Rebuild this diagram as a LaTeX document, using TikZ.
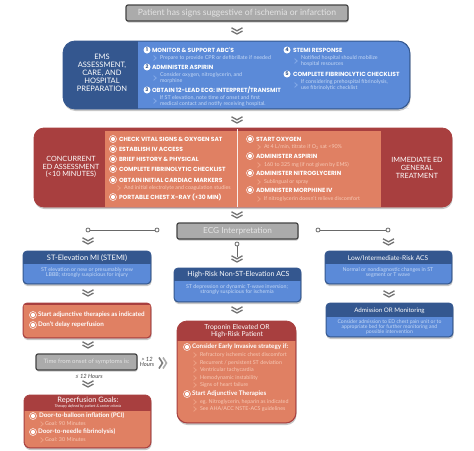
\documentclass[tikz,border=0pt]{standalone}
\usepackage{fontspec}
\setmainfont{Lato}
\newfontfamily\capsfont{Poppins}[Scale=1.0]
\definecolor{bluedk}{HTML}{34578F}
\definecolor{bluelt}{HTML}{5B8AD8}
\definecolor{bluesub}{HTML}{C4D8F5}
\definecolor{bluechev}{HTML}{7FA6E6}
\definecolor{reddk}{HTML}{A83F3F}
\definecolor{redlt}{HTML}{E08063}
\definecolor{redsub}{HTML}{F7C9B5}
\definecolor{redchev}{HTML}{EC9C80}
\definecolor{graybox}{HTML}{ABABAB}
\definecolor{grayline}{HTML}{444444}
\definecolor{graytxt}{HTML}{E4E4E4}
\newcounter{nd}
\newcommand{\fs}[1]{\fontsize{#1}{#1}\selectfont}
\tikzset{
  x=1pt,y=-1pt,
  lab/.style={inner sep=0pt,outer sep=0pt,text=white},
  headL/.style={lab,anchor=west,font={\capsfont\bfseries\fs{5.95}}},
  itemL/.style={lab,anchor=west,font={\bfseries\fs{6.3}}},
  subL/.style={lab,anchor=west,align=left,font={\fs{5.35}\linespread{1.12}\selectfont}},
  title/.style={lab,align=center,font={\fs{7.1}}},
  desc/.style={lab,align=center,font={\fs{5.3}}},
  side/.style={lab,align=center,font={\fs{7.2}}},
  shade/.style={fill=black,fill opacity=0.22,draw=none},
  gbox/.style={draw=grayline,line width=1.2pt,fill=graybox,rounded corners=2pt,inner sep=0pt},
  gtext/.style={lab,text=graytxt},
  endp/.style={circle,draw=grayline!80,fill=white,line width=0.8pt,minimum size=4pt,inner sep=0pt},
  conn/.style={draw=grayline!80,line width=0.9pt},
  numb/.style={circle,fill=white,minimum size=7pt,inner sep=0pt,text=bluedk,font={\capsfont\bfseries\fs{5}}},
  dot/.style={circle,fill=white,minimum size=4.2pt,inner sep=0pt,outer sep=0pt},
  ring/.style={circle,draw=white,line width=0.5pt,minimum size=7pt,inner sep=0pt},
  chev/.pic={
    \draw[grayline!75,line width=1.3pt,line join=miter] (-5.5,-3.2)--(0,-0.2)--(5.5,-3.2);
    \draw[grayline!75,line width=1.3pt,line join=miter] (-5.5,0)--(0,3)--(5.5,0);
  },
  chevr/.pic={
    \draw[grayline!70,line width=1.6pt] (-4,-5.5)--(-0.5,0)--(-4,5.5);
    \draw[graybox,line width=1.6pt] (0,-5.5)--(3.5,0)--(0,5.5);
  },
}
% card: name, x1,y1,x2,y2, ysplit, dark, light, radius
\newcommand{\card}[9]{%
  \pgfmathsetmacro{\cw}{#4-#2}\pgfmathsetmacro{\ch}{#5-#3}%
  \pgfmathsetmacro{\cx}{(#2+#4)/2}\pgfmathsetmacro{\cy}{(#3+#5)/2}%
  \fill[shade,rounded corners=#9pt] (#2+0.5,#3+2) rectangle (#4+0.5,#5+2);
  \node[draw=#7,fill=#7,line width=0.8pt,rounded corners=#9pt,inner sep=0pt,minimum width=\cw pt,minimum height=\ch pt] (#1) at (\cx,\cy) {};
  \fill[#8] (#2+0.6,#6) -- (#4-0.6,#6) [rounded corners=#9pt] -- (#4-0.6,#5-0.6) -- (#2+0.6,#5-0.6) [sharp corners] -- cycle;
}
\newcommand{\smallchev}[3]{%
  \draw[#3,line width=0.9pt] (#1-1.5,#2-2.4)--(#1+1.2,#2)--(#1-1.5,#2+2.4);
}
\newcommand{\numitem}[5]{% bx, y, tx, number, text
  \stepcounter{nd}\node[numb] (b\arabic{nd}) at (#1,#2) {#4};
  \node[headL] (t\arabic{nd}) at (#3,#2) {#5};
}
\newcommand{\bsub}[4]{% chevron x, text x, y, text
  \smallchev{#1}{#3}{bluechev}
  \stepcounter{nd}\node[subL,text=bluesub] (t\arabic{nd}) at (#2,#3) {#4};
}
\newcommand{\rbul}[2]{%
  \stepcounter{nd}\node[ring] (r\arabic{nd}) at (#1,#2) {};
  \node[dot] (d\arabic{nd}) at (#1,#2) {};
}
\newcommand{\ritem}[4]{% bx, tx, y, text
  \rbul{#1}{#3}
  \node[headL] (t\arabic{nd}) at (#2,#3) {#4};
}
\newcommand{\mitem}[4]{%
  \rbul{#1}{#3}
  \node[itemL] (t\arabic{nd}) at (#2,#3) {#4};
}
\newcommand{\rsub}[4]{%
  \smallchev{#1}{#3}{redchev}
  \stepcounter{nd}\node[subL,text=redsub] (t\arabic{nd}) at (#2,#3) {#4};
}
\begin{document}
\begin{tikzpicture}
\useasboundingbox (0,0) rectangle (474,450);
\fill[white] (0,0) rectangle (474,450);

% top box
\fill[shade,rounded corners=2pt] (126.5,6.5) rectangle (348.5,22.5);
\node[gbox,minimum width=222pt,minimum height=16pt] (top) at (237,13) {};
\node[gtext,font={\fs{8.6}}] (topT) at (top.center) {Patient has signs suggestive of ischemia or infarction};
\pic at (237,31) {chev};

% EMS panel
\fill[shade,rounded corners=12pt] (63.5,43) rectangle (410.5,111);
\node[fill=bluedk,draw=bluedk,line width=0.8pt,rounded corners=12pt,inner sep=0pt,minimum width=347pt,minimum height=68pt] (ems) at (236.5,75) {};
\fill[bluelt] (138,41.6) -- (397,41.6) [rounded corners=12pt] -- (409.4,41.6) -- (409.4,108.4) -- (397,108.4) [sharp corners] -- (138,108.4) -- cycle;
\node[side,font={\fs{7.5}}] (emsL) at (102,73) {EMS\\[0.5pt]ASSESSMENT,\\[0.5pt]CARE, AND\\[0.5pt]HOSPITAL\\[0.5pt]PREPARATION};
\numitem{147}{50}{152}{1}{MONITOR \& SUPPORT ABC'S}
\bsub{155}{160}{58}{Prepare to provide CPR or defibrillate if needed}
\numitem{147}{67}{152}{2}{ADMINISTER ASPIRIN}
\bsub{155}{160}{78}{Consider oxygen, nitroglycerin, and\\morphine}
\numitem{147}{90}{152}{3}{OBTAIN 12-LEAD ECG: INTERPRET/TRANSMIT}
\bsub{155}{160}{101}{If ST elevation, note time of onset and first\\medical contact and notify receiving hospital.}
\numitem{287}{50}{293}{4}{STEMI RESPONSE}
\bsub{296}{301}{61}{Notified hospital should mobilize\\hospital resources}
\numitem{287}{74}{293}{5}{COMPLETE FIBRINOLYTIC CHECKLIST}
\bsub{296}{301}{85}{If considering prehospital fibrinolysis,\\use fibrinolytic checklist}
\pic at (237,120) {chev};

% ED panel
\fill[shade,rounded corners=10pt] (34.5,130) rectangle (452.5,209);
\node[fill=reddk,draw=reddk,line width=0.8pt,rounded corners=10pt,inner sep=0pt,minimum width=418pt,minimum height=79pt] (ed) at (243,167.5) {};
\fill[redlt] (105,131) rectangle (381,206.5);
\fill[white!85!redlt] (236.5,129) rectangle (237.7,206.5);
\node[side] (edL) at (71,167) {CONCURRENT\\[0.5pt]ED ASSESSMENT\\[0.5pt](<10 MINUTES)};
\node[side] (edR) at (417,168) {IMMEDIATE ED\\[0.5pt]GENERAL\\[0.5pt]TREATMENT};
\ritem{113}{119}{139}{CHECK VITAL SIGNS \& OXYGEN SAT}
\ritem{113}{119}{149}{ESTABLISH IV ACCESS}
\ritem{113}{119}{159}{BRIEF HISTORY \& PHYSICAL}
\ritem{113}{119}{169}{COMPLETE FIBRINOLYTIC CHECKLIST}
\ritem{113}{119}{180}{OBTAIN INITIAL CARDIAC MARKERS}
\rsub{119}{124}{188}{And initial electrolyte and coagulation studies}
\ritem{113}{119}{197}{PORTABLE CHEST X-RAY (<30 MIN)}
\ritem{250}{256}{139}{START OXYGEN}
\rsub{259}{264}{147}{At 4 L/min, titrate if O\textsubscript{2} sat <90\%}
\ritem{250}{256}{156}{ADMINISTER ASPIRIN}
\rsub{259}{264}{165}{160 to 325 mg (if not given by EMS)}
\ritem{250}{256}{173}{ADMINISTER NITROGLYCERIN}
\rsub{259}{264}{182}{Sublingual or spray}
\ritem{250}{256}{190}{ADMINISTER MORPHINE IV}
\rsub{259}{264}{199}{If nitroglycerin doesn't relieve discomfort}
\pic at (237,215) {chev};

% ECG
\fill[shade,rounded corners=2pt] (177.5,224.5) rectangle (298.5,240.5);
\node[gbox,minimum width=121pt,minimum height=16pt] (ecg) at (237.5,231) {};
\node[gtext,font={\fs{8.3}}] (ecgT) at (ecg.center) {ECG Interpretation};
\node[endp] (la) at (88,230) {};
\node[endp] (lb) at (157,230) {};
\node[endp] (ra) at (318,230) {};
\node[endp] (rb) at (388,230) {};
\node[endp] (mt) at (237,244) {};
\coordinate (mb) at (237,257);
\draw[conn] (la) -- (lb);
\draw[conn] (ra) -- (rb);
\draw[conn] (mt) -- (mb);
\pic at (88,241) {chev};
\pic at (388.5,242) {chev};
\pic at (237,259) {chev};

% STEMI column
\card{stemi}{23}{251}{151}{284}{264}{bluedk}{bluelt}{4}
\node[title,font={\fs{7.5}}] (stemiT) at (87,258) {ST-Elevation MI (STEMI)};
\node[desc,text=bluesub] (stemiD) at (87,272.5) {ST elevation or new or presumably new\\LBBB; strongly suspicious for injury};
\pic at (88,293) {chev};
\card{stemib}{23}{303}{151}{338}{305}{reddk}{redlt}{4}
\mitem{33}{38}{315}{Start adjunctive therapies as indicated}
\mitem{33}{38}{325}{Don't delay reperfusion}
\pic at (88,345) {chev};
\fill[shade,rounded corners=2pt] (36.5,355.5) rectangle (137.5,371.5);
\node[gbox,minimum width=101pt,minimum height=16pt] (time) at (86.5,362) {};
\node[gtext,font={\fs{6}}] (timeT) at (time.center) {Time from onset of symptoms is:};
\node[lab,text=grayline,align=center,font={\itshape\fs{5.8}}] (gt) at (147,362) {> 12\\Hours};
\pic at (163,363) {chevr};
\node[lab,text=grayline,font={\itshape\fs{5.8}}] (le) at (89,376) {≤ 12 Hours};
\pic at (88,384) {chev};
\card{goal}{24}{395}{151}{448}{411}{reddk}{redlt}{6}
\node[title,font={\fs{7.4}}] (goalT) at (88,400) {Reperfusion Goals:};
\node[lab,font={\itshape\fs{3.7}}] (goalD) at (88,406.3) {Therapy defined by patient \& center criteria};
\mitem{33}{39}{416}{Door-to-balloon inflation (PCI)}
\rsub{42}{45}{424}{Goal: 90 Minutes}
\mitem{33}{38}{432}{Door-to-needle fibrinolysis)}
\rsub{42}{45}{440}{Goal: 30 Minutes}

% middle column
\card{hr}{174}{268}{301}{302}{281}{bluedk}{bluelt}{4}
\node[title] (hrT) at (238.5,275) {High-Risk Non-ST-Elevation ACS};
\node[desc,text=bluesub] (hrD) at (237,289.5) {ST depression or dynamic T-wave inversion;\\strongly suspicious for ischemia};
\pic at (237,310) {chev};
\card{trop}{177}{321}{296}{423}{341}{reddk}{redlt}{10}
\node[title,font={\fs{6.8}}] (tropT) at (237,331) {Troponin Elevated OR\\[0.8pt]High-Risk Patient};
\mitem{187}{192}{347}{Consider Early Invasive strategy if:}
\rsub{195}{200}{355}{Refractory ischemic chest discomfort}
\rsub{195}{200}{363}{Recurrent / persistent ST deviation}
\rsub{195}{200}{370}{Ventricular tachycardia}
\rsub{195}{200}{378}{Hemodynamic instability}
\rsub{195}{200}{385}{Signs of heart failure}
\mitem{187}{192}{394}{Start Adjunctive Therapies}
\rsub{195}{200}{402}{eg. Nitroglycerin, heparin as indicated}
\rsub{195}{200}{409}{See AHA/ACC NSTE-ACS guidelines}

% right column
\card{low}{325}{251}{452}{284}{264}{bluedk}{bluelt}{4}
\node[title,font={\fs{6.6}}] (lowT) at (388,258) {Low/Intermediate-Risk ACS};
\node[desc,text=bluesub] (lowD) at (388,272.5) {Normal or nondiagnostic changes in ST\\segment or T wave};
\pic at (389,294) {chev};
\card{adm}{326}{303}{453}{337}{317}{bluedk}{bluelt}{4}
\node[title,font={\fs{6.2}}] (admT) at (389.5,311) {Admission OR Monitoring};
\node[desc,text=bluesub,font={\fs{5.1}}] (admD) at (389.5,327) {Consider admission to ED chest pain unit or to\\appropriate bed for further monitoring and\\possible intervention};
\end{tikzpicture}
\end{document}
